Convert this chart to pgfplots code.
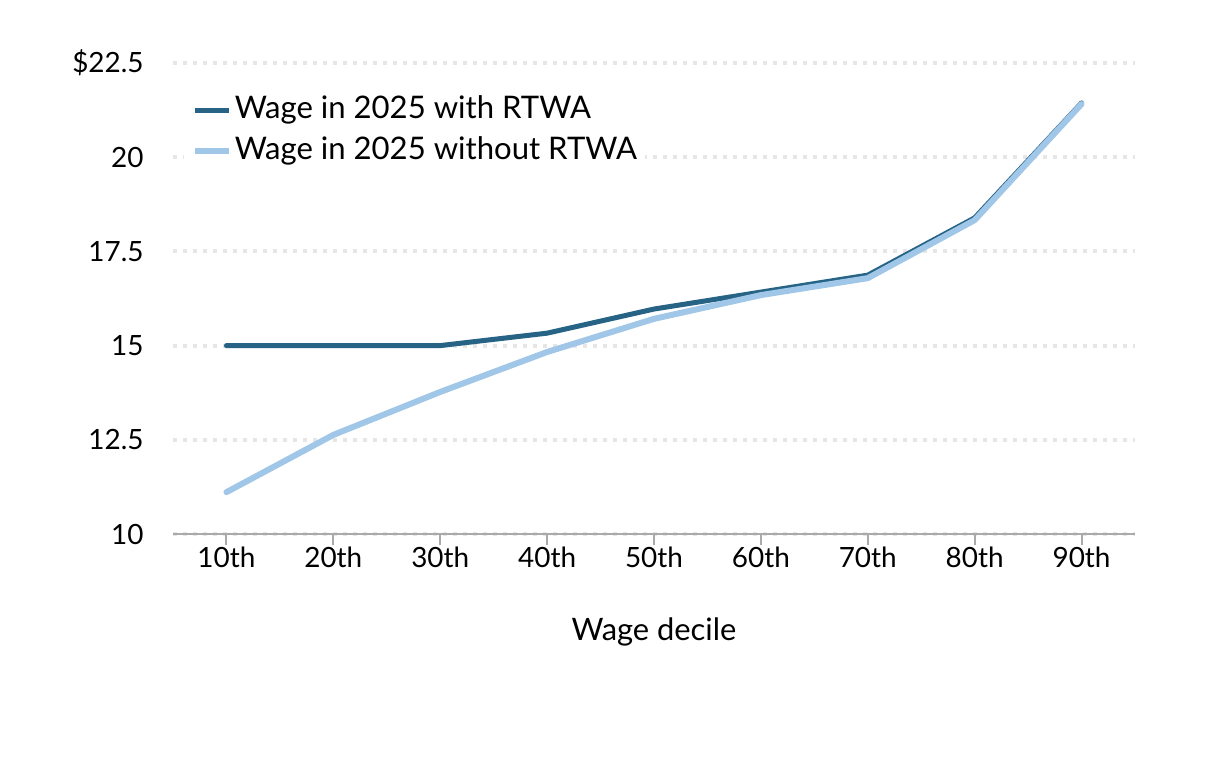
\documentclass[border=0pt]{standalone}
\usepackage{fontspec}
\setmainfont{Lato}
\usepackage{pgfplots}
\pgfplotsset{compat=1.18}
\definecolor{darkline}{HTML}{266385}
\definecolor{lightline}{HTML}{A0C6E8}
\definecolor{gridgray}{HTML}{E6E6E6}
\definecolor{axisgray}{HTML}{AAAAAA}
\begin{document}
\begin{tikzpicture}
\useasboundingbox (-86.5bp,-113.5bp) rectangle (521.5bp,267bp);
\begin{axis}[
  scale only axis, width=481bp, height=235.5bp,
  xmin=-0.5, xmax=8.5, ymin=10, ymax=22.5,
  xtick={0,1,2,3,4,5,6,7,8},
  xticklabels={10th,20th,30th,40th,50th,60th,70th,80th,90th},
  ytick={10,12.5,15,17.5,20,22.5},
  yticklabels={10,12.5,15,17.5,20,\$22.5},
  axis x line*=bottom, axis y line*=left,
  y axis line style={draw=none},
  x axis line style={axisgray, line width=1bp, -},
  xtick style={axisgray, line width=1bp},
  ytick style={draw=none},
  tick align=outside, major tick length=5.5bp,
  ymajorgrids,
  grid style={gridgray, line width=2bp, dash pattern=on 2bp off 3bp},
  tick label style={font=\fontsize{14}{16}\selectfont},
  yticklabel style={anchor=east, inner sep=0pt, xshift=-9bp},
  xticklabel style={anchor=north, inner sep=0pt, yshift=-1bp},
  xlabel={Wage decile},
  xlabel style={at={(axis description cs:0.5,0)}, anchor=base, yshift=-53bp, font=\fontsize{15.5}{18}\selectfont},
  clip=false,
  legend cell align=left,
  legend style={at={(axis description cs:0.0114,0.947)}, anchor=north west, draw=none, fill=white,
    font=\fontsize{15.6}{18}\selectfont, inner sep=4bp, row sep=6.5bp, column sep=1.2bp,
    nodes={inner sep=0pt, text height=11bp, text depth=3bp}},
  legend image code/.code={\draw[#1, line cap=butt] (0bp,0bp) -- (17bp,0bp);},
]
\addplot[darkline, line width=2.5bp, line cap=round, line join=round] coordinates {
(0,15.0) (1,15.0) (2,15.0) (3,15.33) (4,15.97) (5,16.42) (6,16.87) (7,18.39) (8,21.44)};
\addlegendentry{Wage in 2025 with RTWA}
\addplot[lightline, line width=3bp, line cap=round, line join=round] coordinates {
(0,11.11) (1,12.63) (2,13.77) (3,14.83) (4,15.71) (5,16.34) (6,16.79) (7,18.33) (8,21.41)};
\addlegendentry{Wage in 2025 without RTWA}
\end{axis}
\end{tikzpicture}
\end{document}
